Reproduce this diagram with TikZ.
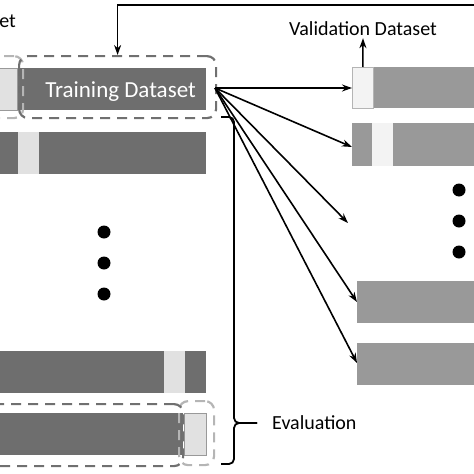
\documentclass[tikz,border=0pt]{standalone}
\usepackage{fontspec}
\setmainfont{Carlito}
\usepackage{xcolor}
\usepackage{tikz}
\usetikzlibrary{arrows.meta}

\definecolor{darkbarc}{HTML}{6E6E6E}
\definecolor{greybarc}{HTML}{999999}
\definecolor{lightsegc}{HTML}{E1E1E1}
\definecolor{palesegc}{HTML}{F3F3F3}
\definecolor{dashdark}{HTML}{707070}
\definecolor{dashlight}{HTML}{B5B5B5}

\tikzset{
	bar/.style={rectangle, anchor=north west, inner sep=0pt, minimum height=42pt},
	darkbar/.style={bar, fill=darkbarc},
	greybar/.style={bar, fill=greybarc},
	lightseg/.style={bar, fill=lightsegc, draw=greybarc, line width=0.6pt},
	paleseg/.style={bar, fill=palesegc, draw=lightsegc!80!black, line width=0.6pt},
	dashbox/.style={rectangle, anchor=north west, inner sep=0pt, rounded corners=9pt, line width=2.2pt, dash pattern=on 10pt off 7pt},
	dot/.style={circle, fill=black, inner sep=0pt, minimum size=13pt},
	labeltext/.style={font=\fontsize{20}{24}\selectfont, inner sep=2pt},
	arr/.style={line width=1.6pt, -{Stealth[length=10pt,width=7pt]}},
}

\begin{document}
\begin{tikzpicture}[x=1pt, y=-1pt]
	\useasboundingbox (0,0) rectangle (474,474);
	\clip (0,0) rectangle (474,474);

	% left folds
	\node[darkbar, minimum width=236pt] (l1) at (-30,68) {};
	\node[lightseg, minimum width=47pt] (l1t) at (-30,68) {};
	\node[anchor=base east, text=white, font=\fontsize{23}{27}\selectfont, inner sep=0pt] (trtxt) at (196,97) {Training Dataset};
	\node[darkbar, minimum width=236pt] (l2) at (-30,132) {};
	\node[lightseg, minimum width=21pt, draw=none] (l2t) at (18,132) {};
	\node[dot] (d1) at (104,232) {};
	\node[dot] (d2) at (104,263) {};
	\node[dot] (d3) at (104,294) {};
	\node[darkbar, minimum width=236pt] (l3) at (-30,351) {};
	\node[lightseg, minimum width=21pt, draw=none] (l3t) at (164,351) {};
	\node[darkbar, minimum width=213pt] (l4) at (-30,413) {};
	\node[lightseg, minimum width=22pt] (l4t) at (184,413) {};

	% dashed groups
	\node[dashbox, draw=dashlight, minimum width=62pt, minimum height=62pt] (testbox) at (-40,55) {};
	\node[dashbox, draw=dashdark, minimum width=197pt, minimum height=62pt] (trainbox) at (18,55) {};
	\node[dashbox, draw=dashlight, minimum width=35pt, minimum height=64pt] (testbox4) at (178,400) {};
	\node[dashbox, draw=dashdark, minimum width=222pt, minimum height=62pt] (trainbox4) at (-40,403) {};
	\node[labeltext, anchor=base east] (tsttxt) at (18,27) {et};

	% right folds
	\node[greybar, minimum width=130pt, minimum height=41pt] (r1) at (352,67) {};
	\node[paleseg, minimum width=21pt, minimum height=41pt] (r1t) at (352,67) {};
	\node[greybar, minimum width=130pt, minimum height=43pt] (r2) at (352,123) {};
	\node[paleseg, minimum width=21pt, minimum height=43pt, draw=none] (r2t) at (372,123) {};
	\node[dot] (e1) at (459,190) {};
	\node[dot] (e2) at (459,221) {};
	\node[dot] (e3) at (459,252) {};
	\node[greybar, minimum width=125pt] (r3) at (357,281) {};
	\node[greybar, minimum width=125pt] (r4) at (357,343) {};
	\node[labeltext] (valtxt) at (363,29) {Validation Dataset};
	\draw[arr] (r1t.north) -- (valtxt.south);

	% arrows out of the training set
	\coordinate (src) at (215,88);
	\coordinate (mid) at (348,223);
	\draw[arr] (src) -- (r1.west |- src);
	\draw[arr] (src) -- (352,147);
	\draw[arr] (src) -- (mid);
	\draw[arr] (src) -- (357,302);
	\draw[arr] (src) -- (357,363);

	% feedback
	\coordinate (fb) at (480,5);
	\draw[arr] (fb) -| (trainbox.north);

	% evaluation brace
	\coordinate (bt) at (221,117);
	\coordinate (bb) at (221,464);
	\coordinate (tip) at (257,423);
	\draw[line width=1.8pt, rounded corners=5pt] (bt) -| (234,423) -- (tip);
	\draw[line width=1.8pt, rounded corners=5pt] (bb) -| (234,423) -- (tip);
	\node[labeltext, anchor=west] (evtxt) at (270,423) {Evaluation};
\end{tikzpicture}
\end{document}
